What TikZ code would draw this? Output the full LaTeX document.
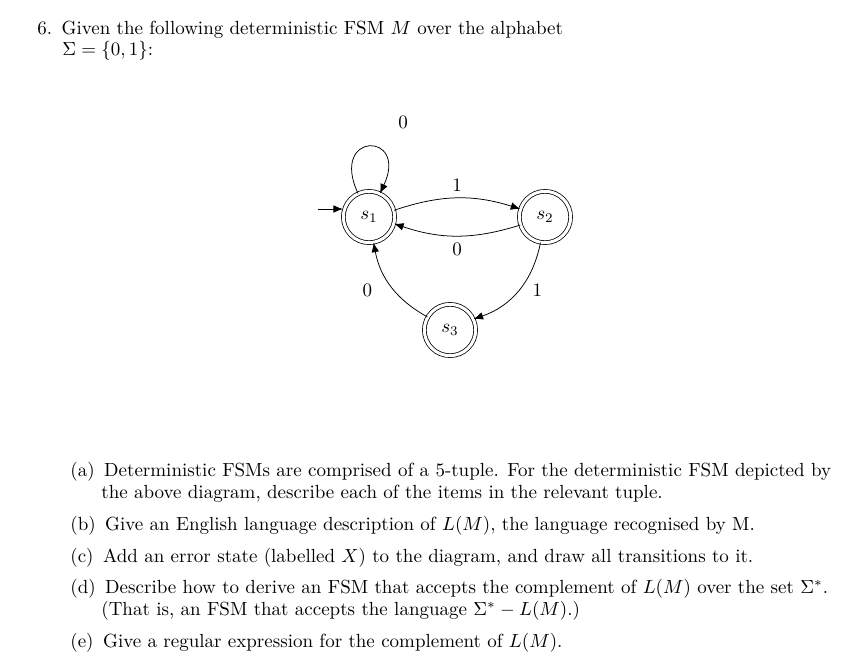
\documentclass[tikz,border=0pt]{standalone}
\usetikzlibrary{arrows.meta}
\begin{document}
\begin{tikzpicture}[x=0.5263pt,y=-0.5263pt,
  st/.style={circle,draw,double,double distance=1.6pt,minimum size=27pt,inner sep=0pt},
  tx/.style={anchor=base west,inner sep=0pt},
  >={Latex[length=5pt,width=4pt]}]
\useasboundingbox (0,0) rectangle (859,657);
\node[st] (s1) at (369,217) {$s_1$};
\node[st] (s2) at (545,217) {$s_2$};
\node[st] (s3) at (450,330) {$s_3$};
\coordinate (i) at (318,209);
\draw[->] (i) -- (s1.west |- i);
\draw[->] (s1) to[out=115,in=65,looseness=8] node[pos=0.5,above=6pt,xshift=18pt] {0} (s1);
\draw[->] (s1.15) to[bend left=18] node[above] {1} (s2.162);
\draw[->] (s2.198) to[bend left=18] node[below] {0} (s1.-15);
\draw[->] (s2.-100) to[bend left=30] node[right=4pt,pos=0.5] {1} (s3.25);
\draw[->] (s3.150) to[bend left=25] node[left=8pt,pos=0.45] {0} (s1.-80);
\node[tx] (l1) at (37,35) {6.\enspace Given the following deterministic FSM $M$ over the alphabet};
\node[tx] (l2) at (62,56) {$\Sigma=\{0,1\}$:};
\node[tx] (a1) at (70,476) {(a)\enspace Deterministic FSMs are comprised of a 5-tuple. For the deterministic FSM depicted by};
\node[tx] (a2) at (101,498) {the above diagram, describe each of the items in the relevant tuple.};
\node[tx] (b) at (70,530) {(b)\enspace Give an English language description of $L(M)$, the language recognised by M.};
\node[tx] (c) at (70,562) {(c)\enspace Add an error state (labelled $X$) to the diagram, and draw all transitions to it.};
\node[tx] (d1) at (70,593) {(d)\enspace Describe how to derive an FSM that accepts the complement of $L(M)$ over the set $\Sigma^*$.};
\node[tx] (d2) at (101,615) {(That is, an FSM that accepts the language $\Sigma^*-L(M)$.)};
\node[tx] (e) at (70,647) {(e)\enspace Give a regular expression for the complement of $L(M)$.};
\end{tikzpicture}
\end{document}
